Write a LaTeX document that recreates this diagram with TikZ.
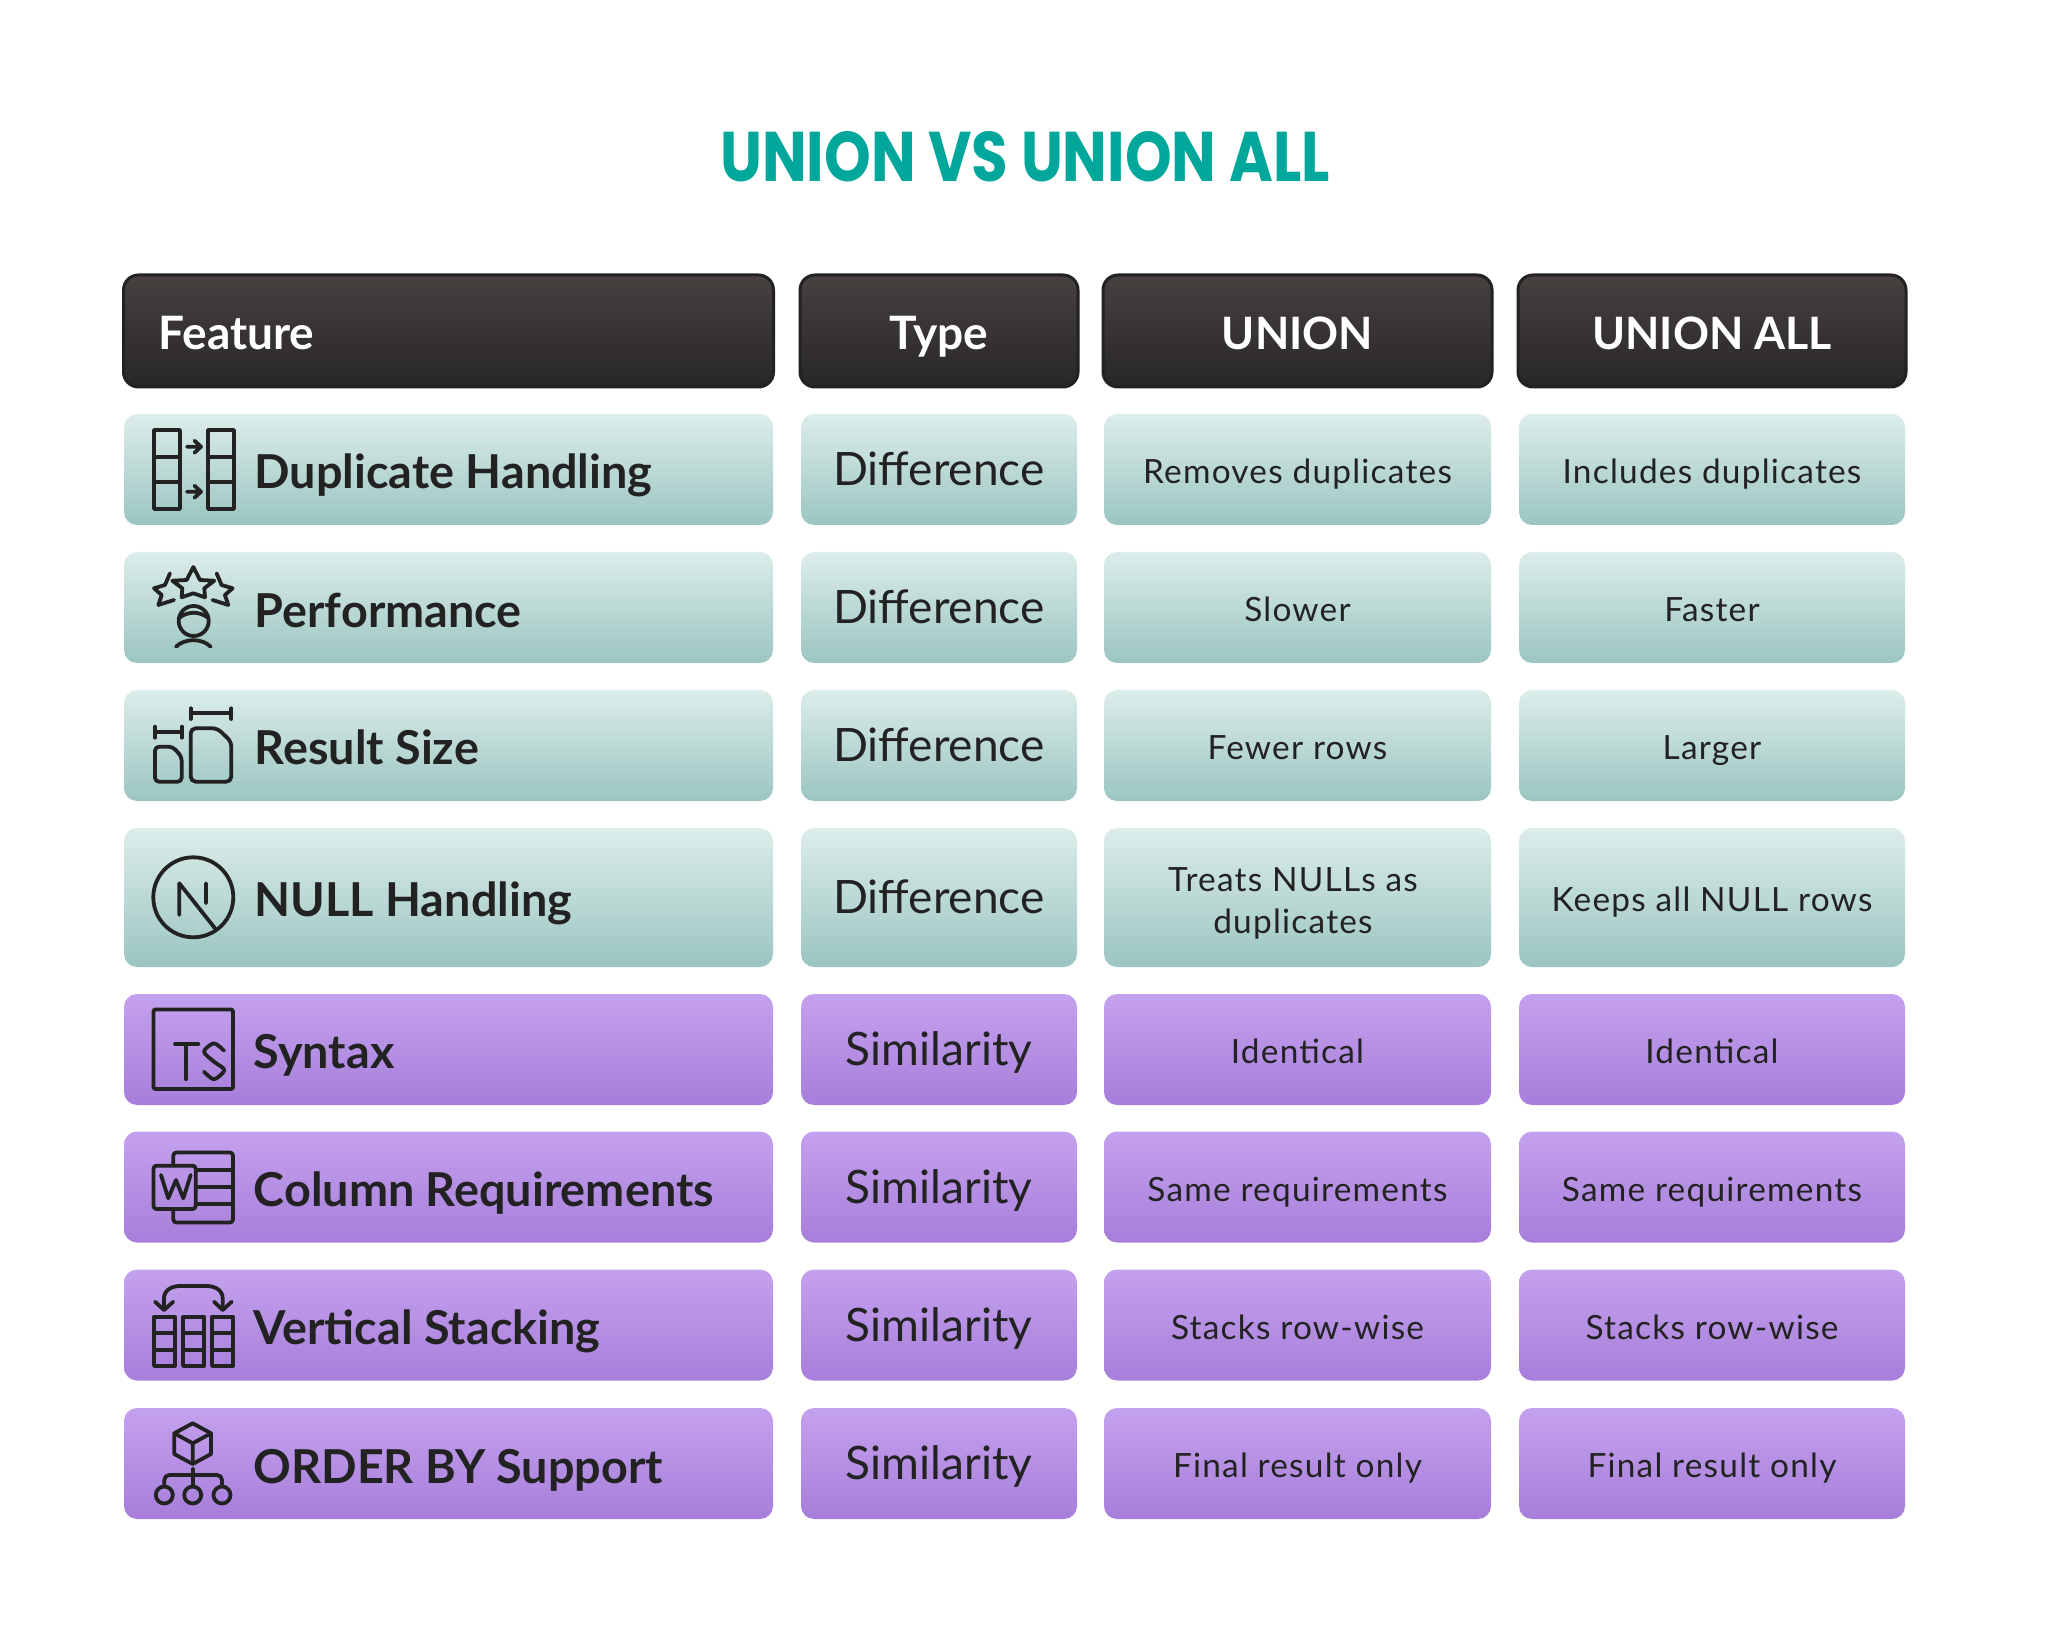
\documentclass[tikz,border=0pt]{standalone}
\usepackage{fontspec}
\usepackage{xcolor}
\usepackage{tikz}
\usetikzlibrary{calc}
\setmainfont{Lato}
\newfontfamily\titlefont{Poppins}
\newfontfamily\cellfont[LetterSpace=3.7]{Lato}
\definecolor{darkink}{HTML}{232222}
\definecolor{titleteal}{HTML}{00A79A}
\definecolor{headtop}{HTML}{474140}
\definecolor{headbottom}{HTML}{282627}
\definecolor{tealtop}{HTML}{DCEDEA}
\definecolor{tealbottom}{HTML}{9BC5C1}
\definecolor{purpletop}{HTML}{C4A1EE}
\definecolor{purplebottom}{HTML}{A77EDA}
\tikzset{
  cellbox/.style={rectangle,rounded corners=0.13cm,inner sep=0pt,text=darkink,minimum height=1.11cm},
  tealcell/.style={cellbox,top color=tealtop,bottom color=tealbottom},
  purplecell/.style={cellbox,top color=purpletop,bottom color=purplebottom},
  headcell/.style={rectangle,rounded corners=0.15cm,inner sep=0pt,draw=darkink,line width=0.03cm,top color=headtop,bottom color=headbottom,text=white,minimum height=1.12cm,font=\fontsize{13.1}{16}\selectfont\bfseries,text height=0.38cm,text depth=0cm},
  featurecol/.style={minimum width=6.49cm},
  typecol/.style={minimum width=2.76cm,font=\fontsize{13.1}{15}\selectfont,text height=0.32cm,text depth=0cm},
  unioncol/.style={minimum width=3.87cm},
  allcol/.style={minimum width=3.86cm},
  valuetext/.style={font=\fontsize{9.5}{12}\cellfont\selectfont,text height=0.28cm,text depth=0cm},
  featuretext/.style={anchor=west,inner sep=0pt,text=darkink,font=\fontsize{13.3}{15}\selectfont\bfseries,text height=0.32cm,text depth=0cm},
  iconline/.style={draw=darkink,line width=0.038cm,line cap=round,line join=round}
}
\begin{document}
\begin{tikzpicture}[y=-1cm]
  \useasboundingbox (0,0) rectangle (20.48,16.34);

  % Title
  \node[text=titleteal,font=\fontsize{20}{24}\titlefont\bfseries\selectfont,xscale=0.846,transform shape] (title) at (10.25,1.57) {UNION VS UNION ALL};

  % Header row
  \node[headcell,minimum width=6.5cm,text width=5.8cm,align=left] (headfeature) at (4.485,3.31) {Feature};
  \node[headcell,minimum width=2.78cm] (headtype) at (9.39,3.31) {Type};
  \node[headcell,minimum width=3.89cm,font=\fontsize{12.7}{16}\selectfont\bfseries] (headunion) at (12.975,3.31) {UNION};
  \node[headcell,minimum width=3.88cm,font=\fontsize{12.7}{16}\selectfont\bfseries] (headall) at (17.12,3.31) {UNION ALL};

  % Duplicate Handling
  \node[tealcell,featurecol] (dupcell) at (4.485,4.695) {};
  \node[featuretext] (duptext) at (2.54,4.73) {Duplicate Handling};
  \node[tealcell,typecol] (duptype) at (9.39,4.695) {Difference};
  \node[tealcell,unioncol,valuetext] (dupunion) at (12.975,4.695) {Removes duplicates};
  \node[tealcell,allcol,valuetext] (dupall) at (17.12,4.695) {Includes duplicates};

  % Performance
  \node[tealcell,featurecol] (perfcell) at (4.485,6.075) {};
  \node[featuretext] (perftext) at (2.54,6.11) {Performance};
  \node[tealcell,typecol] (perftype) at (9.39,6.075) {Difference};
  \node[tealcell,unioncol,valuetext] (perfunion) at (12.975,6.075) {Slower};
  \node[tealcell,allcol,valuetext] (perfall) at (17.12,6.075) {Faster};

  % Result Size
  \node[tealcell,featurecol] (sizecell) at (4.485,7.455) {};
  \node[featuretext] (sizetext) at (2.54,7.49) {Result Size};
  \node[tealcell,typecol] (sizetype) at (9.39,7.455) {Difference};
  \node[tealcell,unioncol,valuetext] (sizeunion) at (12.975,7.455) {Fewer rows};
  \node[tealcell,allcol,valuetext] (sizeall) at (17.12,7.455) {Larger};

  % NULL Handling
  \node[tealcell,featurecol,minimum height=1.39cm] (nullcell) at (4.485,8.975) {};
  \node[featuretext] (nulltext) at (2.54,9.01) {NULL Handling};
  \node[tealcell,typecol,minimum height=1.39cm] (nulltype) at (9.39,8.975) {Difference};
  \node[tealcell,unioncol,minimum height=1.39cm] (nullunion) at (12.975,8.975) {};
  \node[align=center,inner sep=0pt,text=darkink,font=\fontsize{9.5}{12}\cellfont\selectfont] (nullwrap) at (12.93,9.03) {Treats NULLs as\\duplicates};
  \node[tealcell,allcol,valuetext,minimum height=1.39cm] (nullall) at (17.12,8.975) {Keeps all NULL rows};

  % Syntax
  \node[purplecell,featurecol] (syntaxcell) at (4.485,10.495) {};
  \node[featuretext] (syntaxtext) at (2.53,10.53) {Syntax};
  \node[purplecell,typecol] (syntaxtype) at (9.39,10.495) {Similarity};
  \node[purplecell,unioncol,valuetext] (syntaxunion) at (12.975,10.495) {Identical};
  \node[purplecell,allcol,valuetext] (syntaxall) at (17.12,10.495) {Identical};

  % Column Requirements
  \node[purplecell,featurecol] (colcell) at (4.485,11.87) {};
  \node[featuretext] (coltext) at (2.53,11.905) {Column Requirements};
  \node[purplecell,typecol] (coltype) at (9.39,11.87) {Similarity};
  \node[purplecell,unioncol,valuetext] (colunion) at (12.975,11.87) {Same requirements};
  \node[purplecell,allcol,valuetext] (colall) at (17.12,11.87) {Same requirements};

  % Vertical Stacking
  \node[purplecell,featurecol] (stackcell) at (4.485,13.25) {};
  \node[featuretext] (stacktext) at (2.53,13.285) {Vertical Stacking};
  \node[purplecell,typecol] (stacktype) at (9.39,13.25) {Similarity};
  \node[purplecell,unioncol,valuetext] (stackunion) at (12.975,13.25) {Stacks row-wise};
  \node[purplecell,allcol,valuetext] (stackall) at (17.12,13.25) {Stacks row-wise};

  % ORDER BY Support
  \node[purplecell,featurecol] (ordercell) at (4.485,14.635) {};
  \node[featuretext] (ordertext) at (2.53,14.67) {ORDER BY Support};
  \node[purplecell,typecol] (ordertype) at (9.39,14.635) {Similarity};
  \node[purplecell,unioncol,valuetext] (orderunion) at (12.975,14.635) {Final result only};
  \node[purplecell,allcol,valuetext] (orderall) at (17.12,14.635) {Final result only};

  % Icon: duplicates
  \draw[iconline] (1.54,4.30) rectangle (1.80,5.09);
  \draw[iconline] (2.08,4.30) rectangle (2.34,5.09);
  \foreach \cx in {1.54,2.08} {
    \draw[iconline] (\cx,4.567) -- ++(0.26,0) (\cx,4.817) -- ++(0.26,0);
  }
  \foreach \ay in {4.467,4.917} {
    \draw[iconline] (1.87,\ay) -- (2.01,\ay) (1.945,\ay-0.06) -- (2.01,\ay) -- (1.945,\ay+0.06);
  }

  % Icon: performance
  \draw[iconline] (1.933,5.67) -- (1.867,5.80) -- (1.723,5.807) -- (1.823,5.883) -- (1.817,5.973) -- (1.933,5.933) -- (2.05,5.973) -- (2.043,5.883) -- (2.143,5.807) -- (2.00,5.80) -- cycle;
  \draw[iconline] (1.70,5.733) -- (1.65,5.85) -- (1.54,5.883) -- (1.617,5.95) -- (1.583,6.05) -- (1.74,6.00);
  \draw[iconline] (2.166,5.733) -- (2.216,5.85) -- (2.326,5.883) -- (2.249,5.95) -- (2.283,6.05) -- (2.126,6.00);
  \draw[iconline] (1.937,6.21) circle (0.15);
  \draw[iconline] (1.79,6.18) .. controls (1.88,6.11) and (1.99,6.11) .. (2.085,6.18);
  \draw[iconline] (1.76,6.467) .. controls (1.85,6.38) and (2.02,6.38) .. (2.107,6.467);

  % Icon: result size
  \draw[iconline] (1.55,7.323) -- (1.82,7.323) (1.55,7.267) -- (1.55,7.377) (1.82,7.267) -- (1.82,7.377);
  \draw[iconline] (1.907,7.133) -- (2.313,7.133) (1.907,7.083) -- (1.907,7.19) (2.313,7.083) -- (2.313,7.19);
  \draw[iconline,rounded corners=0.04cm] (1.55,7.467) -- (1.727,7.467) -- (1.817,7.567) -- (1.817,7.817) -- (1.55,7.817) -- cycle;
  \draw[iconline,rounded corners=0.05cm] (1.907,7.283) -- (2.173,7.283) -- (2.313,7.417) -- (2.313,7.817) -- (1.907,7.817) -- cycle;

  % Icon: null
  \draw[iconline] (1.933,8.973) circle (0.40);
  \draw[iconline] (1.793,9.15) -- (1.793,8.833) -- (2.15,9.283) (2.06,8.833) -- (2.06,9.033);

  % Icon: typescript
  \draw[iconline,rounded corners=0.02cm] (1.535,10.095) rectangle (2.33,10.89);
  \draw[iconline] (1.75,10.44) -- (1.983,10.44) (1.86,10.44) -- (1.86,10.793);
  \draw[iconline] plot[smooth] coordinates {(2.24,10.507) (2.14,10.433) (2.04,10.517) (2.14,10.617) (2.243,10.70) (2.14,10.793) (2.04,10.717)};

  % Icon: word document
  \draw[iconline,rounded corners=0.03cm] (1.733,11.657) -- (1.733,11.525) -- (2.33,11.525) -- (2.33,12.225) -- (1.733,12.225) -- (1.733,12.09);
  \draw[iconline,rounded corners=0.03cm] (1.535,11.657) rectangle (1.957,12.09);
  \foreach \ly in {11.70,11.873,12.04} {
    \draw[iconline] (1.957,\ly) -- (2.33,\ly);
  }
  \draw[iconline] (1.61,11.75) -- (1.683,11.983) -- (1.76,11.80) -- (1.833,11.983) -- (1.907,11.75);

  % Icon: vertical stacking
  \foreach \sx in {1.54,1.83,2.12} {
    \draw[iconline] (\sx,13.167) rectangle ++(0.207,0.493);
    \draw[iconline] (\sx,13.327) -- ++(0.207,0) (\sx,13.50) -- ++(0.207,0);
  }
  \draw[iconline] (1.64,13.10) -- (1.64,12.983) .. controls (1.64,12.90) and (1.72,12.86) .. (1.80,12.86) -- (2.067,12.86) .. controls (2.147,12.86) and (2.227,12.90) .. (2.227,12.983) -- (2.227,13.10);
  \draw[iconline] (1.55,13.017) -- (1.64,13.10) -- (1.733,13.017);
  \draw[iconline] (2.14,13.017) -- (2.227,13.10) -- (2.317,13.017);

  % Icon: order by tree
  \draw[iconline] (1.927,14.233) -- (2.11,14.333) -- (2.11,14.54) -- (1.927,14.64) -- (1.743,14.54) -- (1.743,14.333) -- cycle;
  \draw[iconline] (1.743,14.333) -- (1.927,14.433) -- (2.11,14.333) (1.927,14.433) -- (1.927,14.64);
  \draw[iconline] (1.927,14.69) -- (1.927,14.865);
  \draw[iconline,rounded corners=0.05cm] (1.643,14.865) -- (1.643,14.75) -- (2.22,14.75) -- (2.22,14.865);
  \foreach \tx in {1.643,1.927,2.22} {
    \draw[iconline] (\tx,14.95) circle (0.085);
  }
\end{tikzpicture}
\end{document}
